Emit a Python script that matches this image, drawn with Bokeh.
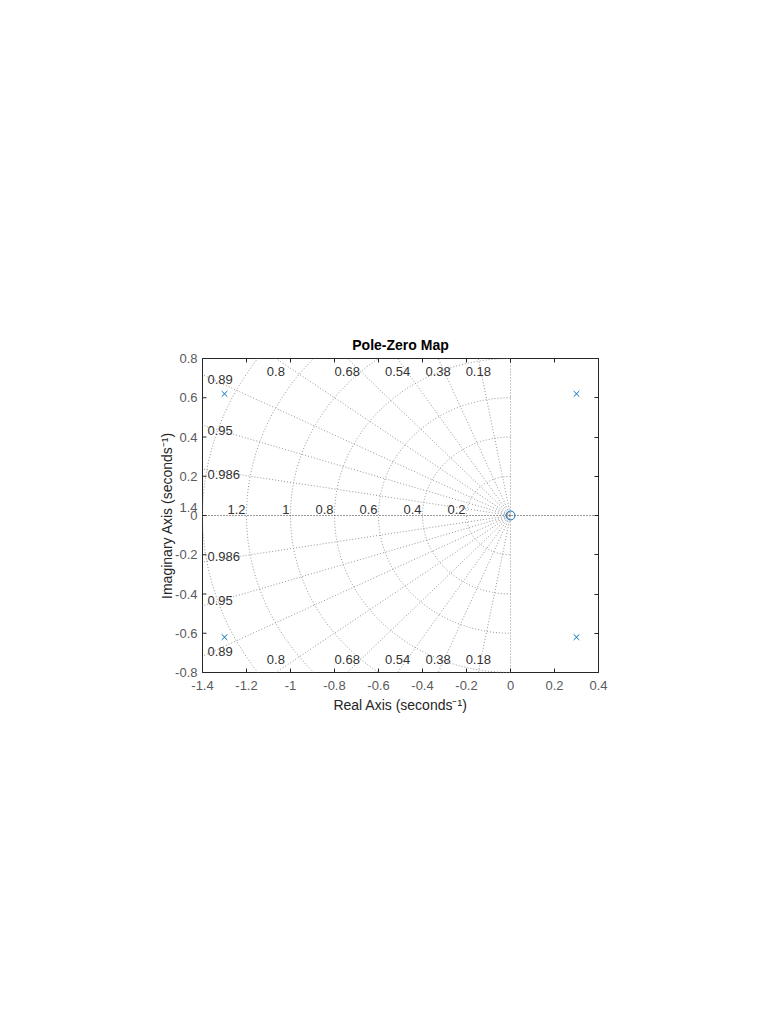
import numpy as np
from bokeh.plotting import figure
from bokeh.models import Range1d, LinearAxis, FixedTicker, ColumnDataSource, LabelSet, Title
from bokeh.core.properties import value
from bokeh.embed import file_html
from bokeh.resources import INLINE

# ---- data ----
pole_re = [-1.3, -1.3, 0.3, 0.3]
pole_im = [0.62, -0.62, 0.62, -0.62]
zero_re = [0.0]
zero_im = [0.0]
zeta_vals = [0.18, 0.38, 0.54, 0.68, 0.8, 0.89, 0.95, 0.986]
zeta_labels = ["0.18", "0.38", "0.54", "0.68", "0.8", "0.89", "0.95", "0.986"]
wn_vals = [0.2, 0.4, 0.6, 0.8, 1.0, 1.2, 1.4]
wn_labels = ["0.2", "0.4", "0.6", "0.8", "1", "1.2", "1.4"]
x_ticks = [-1.4, -1.2, -1.0, -0.8, -0.6, -0.4, -0.2, 0.0, 0.2, 0.4]
x_tick_labels = ["-1.4", "-1.2", "-1", "-0.8", "-0.6", "-0.4", "-0.2", "0", "0.2", "0.4"]
y_ticks = [-0.8, -0.6, -0.4, -0.2, 0.0, 0.2, 0.4, 0.6, 0.8]
y_tick_labels = ["-0.8", "-0.6", "-0.4", "-0.2", "0", "0.2", "0.4", "0.6", "0.8"]

X0, X1 = -1.4, 0.4
Y0, Y1 = -0.8, 0.8
FW, FH = 396, 314
sx = FW / (X1 - X0)
sy = FH / (Y1 - Y0)

FONT = "Liberation Sans"
TICK_COLOR = "#5a5a5a"
GRID_COLOR = "#959595"
BLUE = "#0072BD"
LABEL_COLOR = "#333333"

p = figure(output_backend="svg", toolbar_location=None,
           frame_width=FW, frame_height=FH,
           x_range=Range1d(X0, X1), y_range=Range1d(Y0, Y1),
           min_border_left=202, min_border_top=358,
           min_border_right=162, min_border_bottom=300,
           background_fill_color="white", border_fill_color="white")
p.title = None
p.outline_line_color = "#262626"
p.outline_line_width = 1
p.xgrid.visible = False
p.ygrid.visible = False

def style_axis(ax, labels_on=True):
    ax.axis_line_color = None
    ax.major_tick_in = 4
    ax.major_tick_out = 0
    ax.minor_tick_line_color = None
    ax.major_tick_line_color = "#262626"
    ax.major_label_text_font = FONT
    ax.major_label_text_font_size = "13px"
    ax.major_label_text_color = TICK_COLOR
    ax.axis_label_text_font = FONT
    ax.axis_label_text_font_size = "14px"
    ax.axis_label_text_font_style = "normal"
    ax.axis_label_text_color = "#262626"
    if not labels_on:
        ax.major_label_text_font_size = "0px"
        ax.major_label_standoff = 0
        ax.major_label_text_color = None

xa = p.xaxis[0]
xa.ticker = FixedTicker(ticks=x_ticks)
xa.major_label_overrides = {t: l for t, l in zip(x_ticks, x_tick_labels)}
xa.axis_label = "Real Axis (seconds\u207b\u00b9)"
style_axis(xa)
xa.major_label_standoff = 8
xa.axis_label_standoff = 4

# the sgrid label of the outermost frequency circle sits just left of the frame,
# above the "0" tick label; carried as an extra (label-only) tick position
outer_wn_label = wn_labels[-1]
outer_wn_pos = 8 / sy
ya = p.yaxis[0]
ya.ticker = FixedTicker(ticks=y_ticks + [outer_wn_pos])
overrides = {t: l for t, l in zip(y_ticks, y_tick_labels)}
overrides[outer_wn_pos] = outer_wn_label
ya.major_label_overrides = overrides
ya.axis_label = "Imaginary Axis (seconds\u207b\u00b9)"
style_axis(ya)
ya.major_tick_in = 0
ya.major_label_standoff = 5
ya.axis_label_standoff = -3

top_ax = LinearAxis(ticker=FixedTicker(ticks=x_ticks))
style_axis(top_ax, labels_on=False)
p.add_layout(top_ax, "above")
right_ax = LinearAxis(ticker=FixedTicker(ticks=y_ticks))
style_axis(right_ax, labels_on=False)
p.add_layout(right_ax, "right")
# left-side inner tick marks (without the extra label-only position)
left_ticks = LinearAxis(ticker=FixedTicker(ticks=y_ticks))
style_axis(left_ticks, labels_on=False)

p.add_layout(Title(text="Pole-Zero Map", align="center", text_font=FONT,
                   text_font_size="14px", text_font_style="bold",
                   text_color="#000000", standoff=12), "above")

# ---- sgrid: damping lines ----
R = 3.0
dxs, dys = [], []
for z in zeta_vals:
    s = np.sqrt(1 - z * z)
    for sign in (1, -1):
        dxs.append([0.0, -R * z])
        dys.append([0.0, sign * R * s])
p.multi_line(dxs, dys, line_color=GRID_COLOR, line_dash="1 2", line_width=1)

# ---- sgrid: natural frequency arcs (left half plane) ----
t = np.linspace(np.pi / 2, 3 * np.pi / 2, 200)
cxs = [list(w * np.cos(t)) for w in wn_vals]
cys = [list(w * np.sin(t)) for w in wn_vals]
p.multi_line(cxs, cys, line_color=GRID_COLOR, line_dash="1 2", line_width=1)

# imaginary axis line and real axis line
p.segment(x0=[0.0], y0=[Y0], x1=[0.0], y1=[Y1], line_color=GRID_COLOR, line_dash="1 2", line_width=1)
p.segment(x0=[X0], y0=[0.0], x1=[X1], y1=[0.0], line_color="#333333", line_dash="1 2", line_width=1)

# ---- damping labels ----
lx, ly, lt, la = [], [], [], []
for z, lab in zip(zeta_vals, zeta_labels):
    s = np.sqrt(1 - z * z)
    xt = -Y1 * z / s
    for sign in (1, -1):
        if xt >= X0:
            lx.append(xt)
            ly.append(sign * (Y1 - 13 / sy))
            lt.append(lab)
            la.append("center")
        else:
            yi = -X0 * s / z
            lx.append(X0 + 5 / sx)
            ly.append(sign * (yi - 5 / sy))
            lt.append(lab)
            la.append("left")
zsrc = ColumnDataSource(dict(x=lx, y=ly, text=lt, align=la))
p.add_layout(LabelSet(x="x", y="y", text="text", source=zsrc, text_align="align",
                      text_baseline="middle", text_font=value(FONT),
                      text_font_size="13px", text_color=LABEL_COLOR))

# ---- frequency labels (inside the frame) ----
inside = [(w, l) for w, l in zip(wn_vals, wn_labels) if -w > X0 + 1e-9]
fsrc = ColumnDataSource(dict(x=[-w - 1 / sx for w, _ in inside],
                             y=[2 / sy] * len(inside), text=[l for _, l in inside]))
p.add_layout(LabelSet(x="x", y="y", text="text", source=fsrc, text_align="right",
                      text_baseline="bottom", text_font=value(FONT),
                      text_font_size="13px", text_color=LABEL_COLOR))

# inner tick marks on the left edge drawn from the y tick list
p.segment(x0=[X0] * len(y_ticks), y0=y_ticks, x1=[X0 + 4 / sx] * len(y_ticks), y1=y_ticks,
          line_color="#262626", line_width=1)

# ---- poles and zeros ----
p.scatter(pole_re, pole_im, marker="x", size=8, line_color=BLUE, line_width=1)
p.scatter(zero_re, zero_im, marker="circle", size=9, fill_color=None, line_color=BLUE, line_width=1)

open("out.html", "w").write(file_html(p, INLINE))
